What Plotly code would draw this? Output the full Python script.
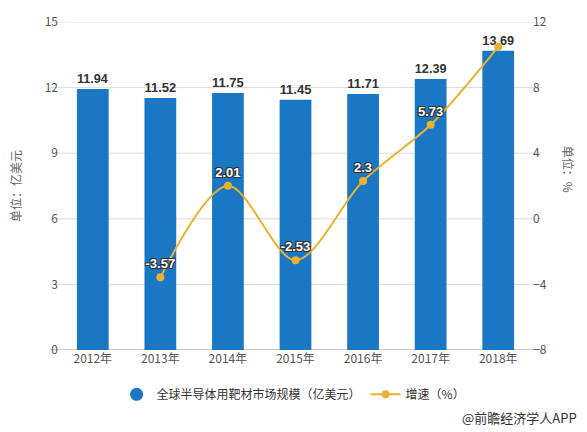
import plotly.graph_objects as go

years = ["2012年", "2013年", "2014年", "2015年", "2016年", "2017年", "2018年"]
market_size = [11.94, 11.52, 11.75, 11.45, 11.71, 12.39, 13.69]
growth_years = ["2013年", "2014年", "2015年", "2016年", "2017年", "2018年"]
growth = [-3.57, 2.01, -2.53, 2.3, 5.73, 10.49]
growth_labels = ["-3.57", "2.01", "-2.53", "2.3", "5.73", ""]
left_ticks = [0, 3, 6, 9, 12, 15]
right_ticks = [-8, -4, 0, 4, 8, 12]

BAR = "#1a77c3"
LINE = "#e8b130"
FONT = "Noto Sans CJK SC, Microsoft YaHei, sans-serif"

fig = go.Figure()
fig.add_trace(go.Bar(
    x=years, y=market_size, name="全球半导体用靶材市场规模（亿美元）",
    marker=dict(color=BAR, line=dict(width=0)), width=0.47,
    text=[f"{v:.2f}" for v in market_size], textposition="outside",
    textfont=dict(size=13, color="#333", family="Liberation Sans, Arial, sans-serif", weight="bold"),
    cliponaxis=False, showlegend=False,
))
fig.add_trace(go.Scatter(
    x=[None], y=[None], mode="markers", name="全球半导体用靶材市场规模（亿美元）",
    marker=dict(color=BAR, size=13, symbol="circle"),
))
fig.add_trace(go.Scatter(
    x=growth_years, y=growth, name="增速（%）", yaxis="y2",
    mode="lines+markers+text",
    line=dict(color=LINE, width=2, shape="spline", smoothing=0.9),
    marker=dict(color=LINE, size=8),
    text=growth_labels, textposition="top center",
    textfont=dict(size=13, color="white", family="Liberation Sans, Arial, sans-serif", weight="bold",
                  shadow="-1px -1px 0 #333, 1px -1px 0 #333, -1px 1px 0 #333, 1px 1px 0 #333"),
    cliponaxis=False,
))

# gridlines extending slightly beyond plot area
for t in left_ticks:
    fig.add_shape(type="line", xref="paper", yref="y", x0=-0.019, x1=1.021, y0=t, y1=t,
                  line=dict(color="#999" if t == 0 else "#dcdcdc", width=1), layer="below")

fig.update_layout(
    width=587, height=432,
    margin=dict(l=59, r=55, t=17, b=82),
    paper_bgcolor="white", plot_bgcolor="white",
    font=dict(family=FONT, size=12, color="#555"),
    xaxis=dict(showgrid=False, showline=False, ticks="", tickfont=dict(size=12, color="#555")),
    yaxis=dict(range=[0, 15], tickvals=left_ticks, showgrid=False, zeroline=False,
               showline=False, ticks="", tickfont=dict(size=12, color="#555")),
    yaxis2=dict(range=[-8, 12], tickvals=right_ticks, overlaying="y", side="right",
                showgrid=False, zeroline=False, showline=False, ticks="",
                tickfont=dict(size=12, color="#555")),
    legend=dict(orientation="h", x=0.496, xanchor="center", y=-0.135, yanchor="middle",
                font=dict(size=12, color="#333"), itemwidth=30, tracegroupgap=0),
    annotations=[
        dict(text="单位：亿美元", xref="paper", yref="paper", x=-0.115, y=0.5,
             textangle=-90, showarrow=False, font=dict(size=12, color="#666")),
        dict(text="单位：%", xref="paper", yref="paper", x=1.1, y=0.55,
             textangle=90, showarrow=False, font=dict(size=12, color="#666")),
        dict(text="@前瞻经济学人APP", xref="paper", yref="paper", x=1.1, y=-0.205,
             xanchor="right", yanchor="middle", showarrow=False,
             font=dict(size=13, color="#333")),
    ],
)

fig.write_html("out.html")
